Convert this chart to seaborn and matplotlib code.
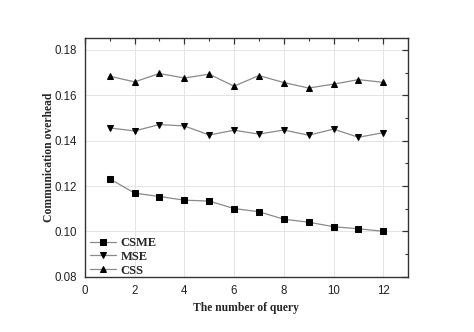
import numpy as np
import pandas as pd
import matplotlib
matplotlib.use("Agg")
import matplotlib.pyplot as plt
from matplotlib import lines as mlines
from matplotlib.ticker import MultipleLocator, FormatStrFormatter
import seaborn as sns

queries = list(range(1, 13))
csme = [0.1232, 0.1169, 0.1154, 0.1138, 0.1134, 0.1101, 0.1087, 0.1054, 0.1041, 0.1021, 0.1012, 0.1001]
mse = [0.1456, 0.1443, 0.1471, 0.1465, 0.1425, 0.1446, 0.1429, 0.1447, 0.1424, 0.1451, 0.1415, 0.1435]
css = [0.1684, 0.1659, 0.1696, 0.1676, 0.1693, 0.1640, 0.1687, 0.1656, 0.1632, 0.1649, 0.1669, 0.1657]

series = {"CSME": (csme, "s"), "MSE": (mse, "v"), "CSS": (css, "^")}

sns.set_style("white")
plt.rcParams["font.family"] = ["Liberation Sans", "DejaVu Sans"]

fig = plt.figure(figsize=(4.74, 3.32), dpi=100)
ax = fig.add_axes([0.179, 0.166, 0.682, 0.720])

for name, (vals, mk) in series.items():
    df = pd.DataFrame({"query": queries, "overhead": vals})
    sns.lineplot(data=df, x="query", y="overhead", ax=ax, color="#8a8a8a",
                 linewidth=0.9, marker=mk, markersize=4.2,
                 markerfacecolor="black", markeredgecolor="black",
                 label=name)

ax.set_xlim(0, 13)
ax.set_ylim(0.08, 0.1853)
ax.xaxis.set_major_locator(MultipleLocator(2))
ax.xaxis.set_minor_locator(MultipleLocator(1))
ax.yaxis.set_major_locator(MultipleLocator(0.02))
ax.yaxis.set_minor_locator(MultipleLocator(0.01))
ax.yaxis.set_major_formatter(FormatStrFormatter("%.2f"))

ax.grid(True, which="major", color="#e4e4e4", linewidth=0.7)
ax.set_axisbelow(True)
for sp in ax.spines.values():
    sp.set_color("#333333")
    sp.set_linewidth(1.0)

tick_color = "#333333"
ax.tick_params(axis="both", which="both", labelsize=8.3, colors=tick_color,
               labelcolor="#222222", top=True, right=True, direction="out",
               pad=1.5)
ax.tick_params(axis="both", which="major", length=4, width=0.9)
ax.tick_params(axis="both", which="minor", length=2, width=0.8)

# ticks on the top and right edges point into the plot
for t in ax.xaxis.get_major_ticks() + ax.xaxis.get_minor_ticks():
    t.tick2line.set_marker(mlines.TICKDOWN)
for t in ax.yaxis.get_major_ticks() + ax.yaxis.get_minor_ticks():
    t.tick2line.set_marker(mlines.TICKLEFT)

label_font = dict(family=["Liberation Serif", "DejaVu Serif"], weight="bold", size=8.4)
ax.set_xlabel("The number of query", fontdict=label_font, labelpad=4)
ax.set_ylabel("Communication overhead", fontdict=label_font, labelpad=0)

leg = ax.legend(loc="lower left", bbox_to_anchor=(0.0, -0.02), frameon=False,
                handlelength=2.1, borderaxespad=0.0, labelspacing=0.15,
                handletextpad=0.35,
                prop=dict(family=["Liberation Serif", "DejaVu Serif"], weight="bold", size=9))

fig.savefig("out.png", dpi=100)
